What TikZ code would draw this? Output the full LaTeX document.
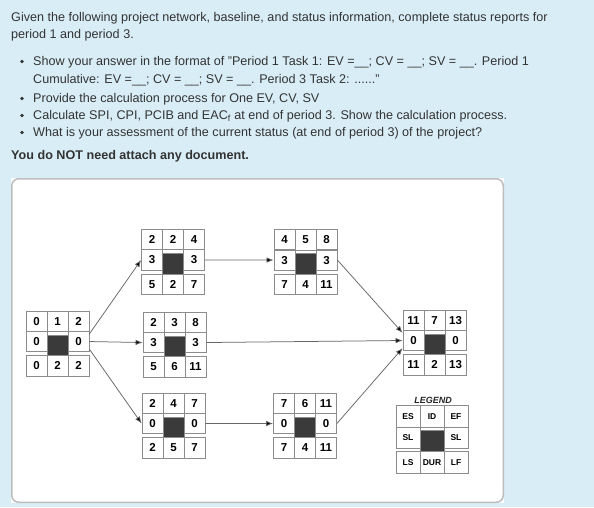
\documentclass[tikz,border=0pt]{standalone}
\usepackage{fontspec}
\setmainfont{Liberation Sans}
\usepackage{xcolor}
\definecolor{pagebg}{HTML}{D9EDF7}
\definecolor{bodytext}{HTML}{333333}
\definecolor{panelline}{HTML}{BDBDBD}
\definecolor{gridline}{HTML}{8C8C8C}
\definecolor{holefill}{HTML}{3A3A3A}
\definecolor{linkline}{HTML}{666666}
\usetikzlibrary{arrows.meta,positioning,calc,matrix}
\tikzset{
  para/.style    = {anchor=base west,inner sep=0pt,text=bodytext,
                    font=\fontsize{12.6}{14}\selectfont},
  dot/.style     = {circle,fill=bodytext,inner sep=0pt,minimum size=3.8pt},
  cell/.style    = {draw=gridline,line width=0.8pt,minimum width=21pt,
                    minimum height=20.3pt,inner sep=0pt,
                    font=\fontsize{11.5}{12}\selectfont\bfseries,text=black},
  hole/.style    = {fill=holefill},
  actgrid/.style = {matrix of nodes,nodes={cell},column sep=-0.8pt,
                    row sep=-0.8pt,inner sep=0pt},
  lgdgrid/.style = {actgrid,nodes={cell,minimum width=24pt,minimum height=21.7pt,
                    font=\fontsize{8.5}{9}\selectfont\bfseries}},
  link/.style    = {draw=linkline,line width=0.75pt,
                    -{Latex[length=7pt,width=5.5pt,fill=black]}},
}

\begin{document}
\begin{tikzpicture}[x=1pt,y=-1pt]
  \fill[pagebg] (0,0) rectangle (594,507);
  \useasboundingbox (0,0) rectangle (594,507);

  % question text
  \node[para] (l1) at (11,21.5) {Given the following project network, baseline, and status information, complete status reports for};
  \node[para] (l2) at (11,38.5) {period 1 and period 3.};
  \node[dot] (d1) at (22,61.5) {};
  \node[para] (l3) at (33,65.5) {Show your answer in the format of "Period 1 Task 1: EV =\_\_; CV = \_\_; SV = \_\_. Period 1};
  \node[para] (l4) at (33,83.5) {Cumulative: EV =\_\_; CV = \_\_; SV = \_\_. Period 3 Task 2: ......"};
  \node[dot] (d2) at (22,98.5) {};
  \node[para] (l5) at (33,102.5) {Provide the calculation process for One EV, CV, SV};
  \node[dot] (d3) at (22,115.5) {};
  \node[para] (l6) at (33,119.5) {Calculate SPI, CPI, PCIB and EAC\textsubscript{f} at end of period 3. Show the calculation process.};
  \node[dot] (d4) at (22,132.5) {};
  \node[para] (l7) at (33,136.5) {What is your assessment of the current status (at end of period 3) of the project?};
  \node[para,font=\fontsize{12.6}{14}\selectfont\bfseries] (l8) at (11,159.5) {You do NOT need attach any document.};

  % network panel
  \fill[white] (11,178) rectangle (504,503);
  \draw[panelline,line width=1.5pt,rounded corners=7pt] (11.75,178.75) rectangle (503.25,502.25);

  \matrix (A) [actgrid] at (57.5,343.5) {0 & 1 & 2\\ 0 & |[hole]| & 0\\ 0 & 2 & 2\\};
  \matrix (B) [actgrid] at (173,262)    {2 & 2 & 4\\ 3 & |[hole]| & 3\\ 5 & 2 & 7\\};
  \matrix (C) [actgrid] at (305.5,262)  {4 & 5 & 8\\ 3 & |[hole]| & 3\\ 7 & 4 & 11\\};
  \matrix (D) [actgrid] at (174.5,344.5){2 & 3 & 8\\ 3 & |[hole]| & 3\\ 5 & 6 & 11\\};
  \matrix (E) [actgrid] at (173.5,425.5){2 & 4 & 7\\ 0 & |[hole]| & 0\\ 2 & 5 & 7\\};
  \matrix (F) [actgrid] at (305,425.5)  {7 & 6 & 11\\ 0 & |[hole]| & 0\\ 7 & 4 & 11\\};
  \matrix (G) [actgrid] at (434.5,342.5){11 & 7 & 13\\ 0 & |[hole]| & 0\\ 11 & 2 & 13\\};

  \draw[link] (A-2-3.35)  -- (B-2-1.west);
  \draw[link] (A-2-3.east) -- (D-2-1.west);
  \draw[link] (A-2-3.-35) -- (E-2-1.west);
  \draw[link] (B-2-3.east) -- (C-2-1.west);
  \draw[link] (E-2-3.east) -- (F-2-1.west);
  \draw[link] (C-2-3.east) -- (G-2-1.145);
  \draw[link] (D-2-3.east) -- (G-2-1.west);
  \draw[link] (F-2-3.east) -- (G-2-1.-145);

  % legend
  \node[font=\fontsize{9}{10}\selectfont\bfseries\itshape,text=black!85] (lgd) at (433,400) {LEGEND};
  \matrix (L) [lgdgrid] at (432,439.5) {ES & ID & EF\\ SL & |[hole]| & SL\\ LS & DUR & LF\\};
\end{tikzpicture}
\end{document}
